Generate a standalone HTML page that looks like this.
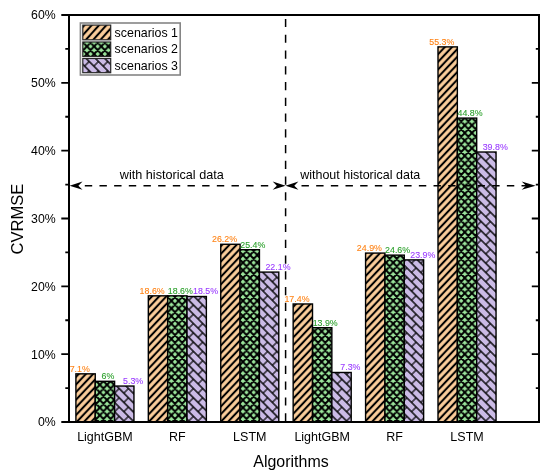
<!DOCTYPE html>
<html lang="en"><head><meta charset="utf-8"><title>CVRMSE by algorithm</title>
<style>html,body{margin:0;padding:0;background:#fff}svg{display:block}text{font-family:"Liberation Sans",sans-serif}</style>
</head><body>
<svg width="550" height="474" viewBox="0 0 550 474">
<defs>
<pattern id="p1" patternUnits="userSpaceOnUse" width="20" height="5.237" patternTransform="translate(438.4 84.4) rotate(-46.661)"><rect y="-1" width="20" height="7.237" fill="#fdcf9c"/><rect y="0" width="20" height="1.025" fill="#000"/><rect y="4.212" width="20" height="1.125" fill="#000"/></pattern>
<pattern id="p1L" patternUnits="userSpaceOnUse" width="20" height="5.425" patternTransform="translate(85.9 39.8) rotate(-48)"><rect y="-1" width="20" height="7.425" fill="#fdcf9c"/><rect y="0" width="20" height="1.025" fill="#000"/><rect y="4.400" width="20" height="1.125" fill="#000"/></pattern>
<pattern id="p2" patternUnits="userSpaceOnUse" width="7.155" height="7.63" patternTransform="translate(457.6 384.75)"><rect width="7.155" height="7.63" fill="#9be69c"/><path d="M-7.155 -7.63L14.31 15.26M0 -7.63L14.31 7.63M-7.155 0L7.155 15.26M-7.155 15.26L14.31 -7.63M-7.155 7.63L7.155 -7.63M0 15.26L14.31 0" stroke="#000" stroke-width="2.0" fill="none"/></pattern>
<pattern id="p2L" patternUnits="userSpaceOnUse" width="7.155" height="7.63" patternTransform="translate(86.95 46.4)"><rect width="7.155" height="7.63" fill="#9be69c"/><path d="M-7.155 -7.63L14.31 15.26M0 -7.63L14.31 7.63M-7.155 0L7.155 15.26M-7.155 15.26L14.31 -7.63M-7.155 7.63L7.155 -7.63M0 15.26L14.31 0" stroke="#000" stroke-width="2.0" fill="none"/></pattern>
<pattern id="p3" patternUnits="userSpaceOnUse" width="13.124" height="13.124" patternTransform="translate(490.4 305.0) rotate(45)"><rect x="-1" y="-1" width="15.124" height="15.124" fill="#cbbbe6"/><path d="M-1 0H14.124M-1 6.562H14.124M-1 13.124H14.124M0 0V6.562M13.124 0V6.562M6.562 6.562V13.124" stroke="#000" stroke-width="1.2" fill="none"/></pattern>
<pattern id="p3L" patternUnits="userSpaceOnUse" width="13.124" height="13.124" patternTransform="translate(98.5 61.5) rotate(45)"><rect x="-1" y="-1" width="15.124" height="15.124" fill="#cbbbe6"/><path d="M-1 0H14.124M-1 6.562H14.124M-1 13.124H14.124M0 0V6.562M13.124 0V6.562M6.562 6.562V13.124" stroke="#000" stroke-width="1.2" fill="none"/></pattern>
<path id="ah" d="M0 0L12.9 -4.1L8.8 0L12.9 4.1Z"/>
</defs>
<rect width="550" height="474" fill="#fff"/>
<g stroke="#000" stroke-width="1.4">
<rect x="75.90" y="373.84" width="19.35" height="48.16" fill="url(#p1)"/>
<rect x="95.25" y="381.30" width="19.35" height="40.70" fill="url(#p2)"/>
<rect x="114.60" y="386.05" width="19.35" height="35.95" fill="url(#p3)"/>
<rect x="148.32" y="295.83" width="19.35" height="126.17" fill="url(#p1)"/>
<rect x="167.67" y="295.83" width="19.35" height="126.17" fill="url(#p2)"/>
<rect x="187.02" y="296.51" width="19.35" height="125.49" fill="url(#p3)"/>
<rect x="220.74" y="244.28" width="19.35" height="177.72" fill="url(#p1)"/>
<rect x="240.09" y="249.70" width="19.35" height="172.30" fill="url(#p2)"/>
<rect x="259.44" y="272.09" width="19.35" height="149.91" fill="url(#p3)"/>
<rect x="293.16" y="303.97" width="19.35" height="118.03" fill="url(#p1)"/>
<rect x="312.51" y="327.71" width="19.35" height="94.29" fill="url(#p2)"/>
<rect x="331.86" y="372.48" width="19.35" height="49.52" fill="url(#p3)"/>
<rect x="365.58" y="253.09" width="19.35" height="168.91" fill="url(#p1)"/>
<rect x="384.93" y="255.13" width="19.35" height="166.87" fill="url(#p2)"/>
<rect x="404.28" y="259.88" width="19.35" height="162.12" fill="url(#p3)"/>
<rect x="438.00" y="46.88" width="19.35" height="375.12" fill="url(#p1)"/>
<rect x="457.35" y="118.11" width="19.35" height="303.89" fill="url(#p2)"/>
<rect x="476.70" y="152.02" width="19.35" height="269.98" fill="url(#p3)"/>
</g>
<path d="M285.6 18.9V422.0" stroke="#000" stroke-width="1.5" stroke-dasharray="8.2 7.57" fill="none"/>
<path d="M84.8 185.7H270" stroke="#000" stroke-width="1.4" stroke-dasharray="7.4 7.27" fill="none"/>
<path d="M301.5 185.7H526" stroke="#000" stroke-width="1.4" stroke-dasharray="7.4 7.27" fill="none"/>
<use href="#ah" transform="translate(69.6 185.7)"/>
<use href="#ah" transform="translate(285.6 185.7) scale(-1 1)"/>
<use href="#ah" transform="translate(285.5 185.7)"/>
<use href="#ah" transform="translate(535.6 185.7) scale(-1.08 1)"/>
<rect x="69.0" y="15.0" width="470.0" height="407.0" fill="none" stroke="#000" stroke-width="2"/>
<path d="M61.3 422.00H69.0M531.8 422.00H539.0M65.3 388.08H69.0M535.8 388.08H539.0M61.3 354.17H69.0M531.8 354.17H539.0M65.3 320.25H69.0M535.8 320.25H539.0M61.3 286.33H69.0M531.8 286.33H539.0M65.3 252.42H69.0M535.8 252.42H539.0M61.3 218.50H69.0M531.8 218.50H539.0M65.3 184.58H69.0M535.8 184.58H539.0M61.3 150.67H69.0M531.8 150.67H539.0M65.3 116.75H69.0M535.8 116.75H539.0M61.3 82.83H69.0M531.8 82.83H539.0M65.3 48.92H69.0M535.8 48.92H539.0M61.3 15.00H69.0M531.8 15.00H539.0" stroke="#000" stroke-width="1.8" fill="none"/>
<text x="37.92" y="426.40" font-size="13.3" textLength="17.78" lengthAdjust="spacingAndGlyphs">0%</text>
<text x="31.08" y="358.57" font-size="13.3" textLength="24.62" lengthAdjust="spacingAndGlyphs">10%</text>
<text x="31.08" y="290.73" font-size="13.3" textLength="24.62" lengthAdjust="spacingAndGlyphs">20%</text>
<text x="31.08" y="222.90" font-size="13.3" textLength="24.62" lengthAdjust="spacingAndGlyphs">30%</text>
<text x="31.08" y="155.07" font-size="13.3" textLength="24.62" lengthAdjust="spacingAndGlyphs">40%</text>
<text x="31.08" y="87.23" font-size="13.3" textLength="24.62" lengthAdjust="spacingAndGlyphs">50%</text>
<text x="31.08" y="19.40" font-size="13.3" textLength="24.62" lengthAdjust="spacingAndGlyphs">60%</text>
<text x="77.14" y="440.90" font-size="13.3" textLength="55.58" lengthAdjust="spacingAndGlyphs">LightGBM</text>
<text x="169.01" y="440.90" font-size="13.3" textLength="16.66" lengthAdjust="spacingAndGlyphs">RF</text>
<text x="233.10" y="440.90" font-size="13.3" textLength="33.34" lengthAdjust="spacingAndGlyphs">LSTM</text>
<text x="294.40" y="440.90" font-size="13.3" textLength="55.58" lengthAdjust="spacingAndGlyphs">LightGBM</text>
<text x="386.27" y="440.90" font-size="13.3" textLength="16.66" lengthAdjust="spacingAndGlyphs">RF</text>
<text x="450.36" y="440.90" font-size="13.3" textLength="33.34" lengthAdjust="spacingAndGlyphs">LSTM</text>
<text x="253.3" y="466.5" font-size="16.3" textLength="75.4" lengthAdjust="spacingAndGlyphs">Algorithms</text>
<text transform="translate(22.6 254.4) rotate(-90)" font-size="16" textLength="70.7" lengthAdjust="spacingAndGlyphs">CVRMSE</text>
<text x="119.80" y="178.60" font-size="13.3" textLength="104.01" lengthAdjust="spacingAndGlyphs">with historical data</text>
<text x="300.20" y="178.60" font-size="13.3" textLength="120.12" lengthAdjust="spacingAndGlyphs">without historical data</text>
<text x="69.64" y="371.64" font-size="9.7" textLength="20.17" lengthAdjust="spacingAndGlyphs" fill="#ff8214" stroke="#ff8214" stroke-width="0.1">7.1%</text>
<text x="101.53" y="379.10" font-size="9.7" textLength="12.79" lengthAdjust="spacingAndGlyphs" fill="#2ca02c" stroke="#2ca02c" stroke-width="0.1">6%</text>
<text x="123.04" y="383.85" font-size="9.7" textLength="20.17" lengthAdjust="spacingAndGlyphs" fill="#9a3cff" stroke="#9a3cff" stroke-width="0.1">5.3%</text>
<text x="139.60" y="293.63" font-size="9.7" textLength="25.09" lengthAdjust="spacingAndGlyphs" fill="#ff8214" stroke="#ff8214" stroke-width="0.1">18.6%</text>
<text x="167.80" y="293.63" font-size="9.7" textLength="25.09" lengthAdjust="spacingAndGlyphs" fill="#2ca02c" stroke="#2ca02c" stroke-width="0.1">18.6%</text>
<text x="193.00" y="294.31" font-size="9.7" textLength="25.09" lengthAdjust="spacingAndGlyphs" fill="#9a3cff" stroke="#9a3cff" stroke-width="0.1">18.5%</text>
<text x="212.02" y="242.08" font-size="9.7" textLength="25.09" lengthAdjust="spacingAndGlyphs" fill="#ff8214" stroke="#ff8214" stroke-width="0.1">26.2%</text>
<text x="240.22" y="247.50" font-size="9.7" textLength="25.09" lengthAdjust="spacingAndGlyphs" fill="#2ca02c" stroke="#2ca02c" stroke-width="0.1">25.4%</text>
<text x="265.42" y="269.89" font-size="9.7" textLength="25.09" lengthAdjust="spacingAndGlyphs" fill="#9a3cff" stroke="#9a3cff" stroke-width="0.1">22.1%</text>
<text x="284.44" y="301.77" font-size="9.7" textLength="25.09" lengthAdjust="spacingAndGlyphs" fill="#ff8214" stroke="#ff8214" stroke-width="0.1">17.4%</text>
<text x="312.64" y="325.51" font-size="9.7" textLength="25.09" lengthAdjust="spacingAndGlyphs" fill="#2ca02c" stroke="#2ca02c" stroke-width="0.1">13.9%</text>
<text x="340.30" y="370.28" font-size="9.7" textLength="20.17" lengthAdjust="spacingAndGlyphs" fill="#9a3cff" stroke="#9a3cff" stroke-width="0.1">7.3%</text>
<text x="356.86" y="250.90" font-size="9.7" textLength="25.09" lengthAdjust="spacingAndGlyphs" fill="#ff8214" stroke="#ff8214" stroke-width="0.1">24.9%</text>
<text x="385.06" y="252.93" font-size="9.7" textLength="25.09" lengthAdjust="spacingAndGlyphs" fill="#2ca02c" stroke="#2ca02c" stroke-width="0.1">24.6%</text>
<text x="410.26" y="257.68" font-size="9.7" textLength="25.09" lengthAdjust="spacingAndGlyphs" fill="#9a3cff" stroke="#9a3cff" stroke-width="0.1">23.9%</text>
<text x="429.28" y="44.68" font-size="9.7" textLength="25.09" lengthAdjust="spacingAndGlyphs" fill="#ff8214" stroke="#ff8214" stroke-width="0.1">55.3%</text>
<text x="457.48" y="115.91" font-size="9.7" textLength="25.09" lengthAdjust="spacingAndGlyphs" fill="#2ca02c" stroke="#2ca02c" stroke-width="0.1">44.8%</text>
<text x="482.68" y="149.82" font-size="9.7" textLength="25.09" lengthAdjust="spacingAndGlyphs" fill="#9a3cff" stroke="#9a3cff" stroke-width="0.1">39.8%</text>
<rect x="80.4" y="23" width="99.8" height="52" fill="#fff" stroke="#858585" stroke-width="1.6"/>
<rect x="82.8" y="25.1" width="27.9" height="14.7" fill="url(#p1L)" stroke="#262626" stroke-width="1.2"/>
<rect x="82.8" y="42.0" width="27.9" height="14.5" fill="url(#p2L)" stroke="#262626" stroke-width="1.2"/>
<rect x="82.8" y="58.5" width="27.9" height="14.2" fill="url(#p3L)" stroke="#262626" stroke-width="1.2"/>
<text x="114.60" y="36.80" font-size="13.3" textLength="63.41" lengthAdjust="spacingAndGlyphs">scenarios 1</text>
<text x="114.60" y="53.40" font-size="13.3" textLength="63.41" lengthAdjust="spacingAndGlyphs">scenarios 2</text>
<text x="114.60" y="69.80" font-size="13.3" textLength="63.41" lengthAdjust="spacingAndGlyphs">scenarios 3</text>
</svg>
</body></html>
